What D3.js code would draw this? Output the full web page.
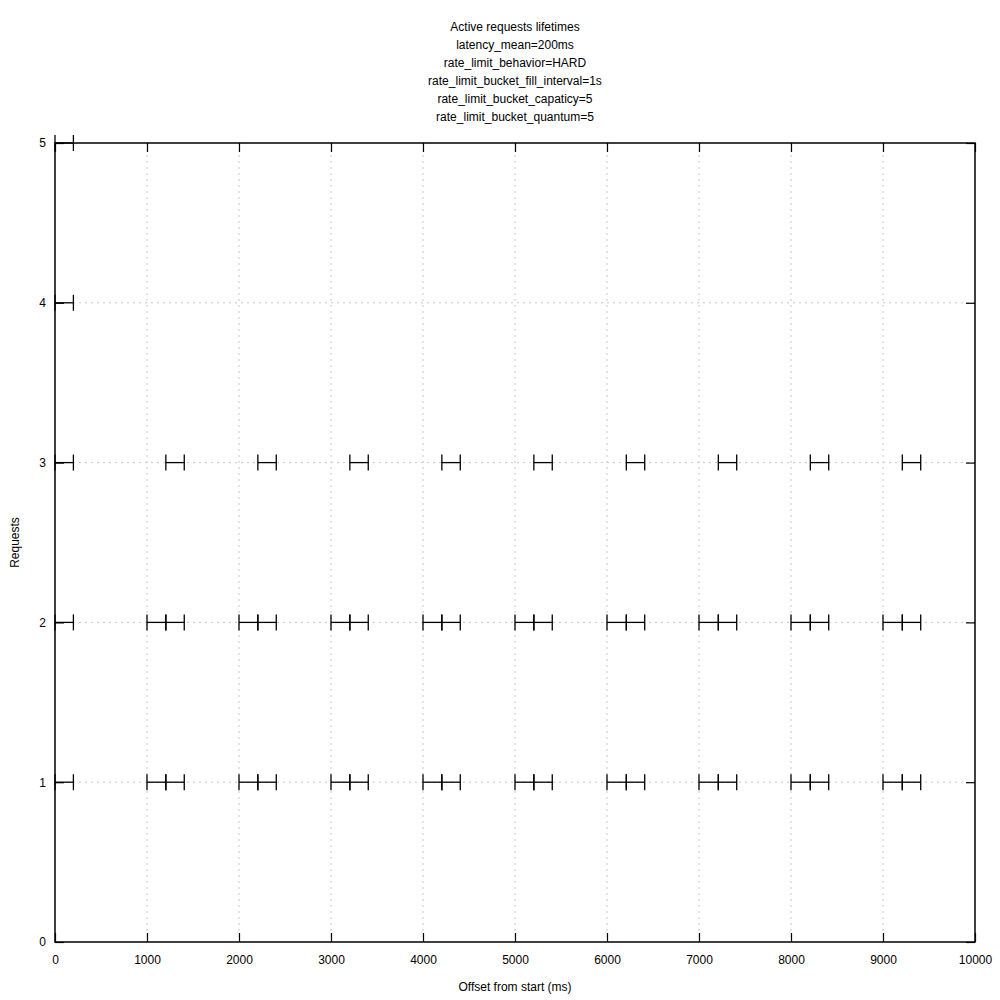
<!DOCTYPE html>
<html>
<head>
<meta charset="utf-8">
<script src="https://cdn.jsdelivr.net/npm/d3@7"></script>
<style>
  body { margin: 0; background: #fff; }
  text { font-family: "Liberation Sans", Arial, sans-serif; font-size: 12px; fill: #000; }
</style>
</head>
<body>
<svg id="chart" width="1000" height="1000"></svg>
<script>
// title lines, top to bottom
const titleLines = [
  "Active requests lifetimes",
  "latency_mean=200ms",
  "rate_limit_behavior=HARD",
  "rate_limit_bucket_fill_interval=1s",
  "rate_limit_bucket_capaticy=5",
  "rate_limit_bucket_quantum=5"
];

const xTicks = [0, 1000, 2000, 3000, 4000, 5000, 6000, 7000, 8000, 9000, 10000];
const yTicks = [0, 1, 2, 3, 4, 5];

// request lifetimes per level: [start ms, end ms]
const level1 = [[0, 200], [1000, 1205], [1205, 1405], [2000, 2205], [2205, 2405], [3000, 3205], [3205, 3405],
  [4000, 4205], [4205, 4405], [5000, 5205], [5205, 5405], [6000, 6210], [6210, 6410], [7000, 7210], [7210, 7410],
  [8000, 8210], [8210, 8410], [9000, 9210], [9210, 9410]];
const level2 = [[0, 200], [1000, 1205], [1205, 1405], [2000, 2205], [2205, 2405], [3000, 3205], [3205, 3405],
  [4000, 4205], [4205, 4405], [5000, 5205], [5205, 5405], [6000, 6210], [6210, 6410], [7000, 7210], [7210, 7410],
  [8000, 8210], [8210, 8410], [9000, 9210], [9210, 9410]];
const level3 = [[0, 200], [1205, 1405], [2205, 2405], [3205, 3405], [4205, 4405], [5205, 5405],
  [6210, 6410], [7210, 7410], [8210, 8410], [9210, 9410]];
const level4 = [[0, 200]];
const level5 = [[0, 200]];

const levels = [level1, level2, level3, level4, level5];

let data = [];
levels.forEach(function(arr, i) {
  arr.forEach(function(d) { data.push({level: i + 1, start: d[0], end: d[1]}); });
});

var margin = {top: 143, right: 25, bottom: 58, left: 55};
var width = 1000 - margin.left - margin.right;
var height = 1000 - margin.top - margin.bottom;

var x = d3.scaleLinear().domain([0, 10000]).range([0, width]);
var y = d3.scaleLinear().domain([0, 5]).range([height, 0]);

let svg = d3.select("#chart");

// title
svg.append("g")
  .selectAll("text")
  .data(titleLines)
  .enter().append("text")
  .attr("x", margin.left + width / 2)
  .attr("y", function(d, i) { return 31 + i * 18; })
  .attr("text-anchor", "middle")
  .text(function(d) { return d; });

let g = svg.append("g")
  .attr("transform", "translate(" + margin.left + "," + margin.top + ")");

// grid
g.selectAll(".vgrid")
  .data(xTicks.slice(1, -1))
  .enter().append("line")
  .attr("x1", function(d) { return x(d); })
  .attr("x2", function(d) { return x(d); })
  .attr("y1", 0)
  .attr("y2", height)
  .attr("stroke", "#c8c8c8")
  .attr("stroke-width", 1)
  .attr("stroke-dasharray", "2,4");

g.selectAll(".hgrid")
  .data(yTicks.slice(1, -1))
  .enter().append("line")
  .attr("x1", 0)
  .attr("x2", width)
  .attr("y1", function(d) { return y(d); })
  .attr("y2", function(d) { return y(d); })
  .attr("stroke", "#c8c8c8")
  .attr("stroke-width", 1)
  .attr("stroke-dasharray", "2,4");

// axes, ticks pointing inwards on all sides
function styleAxis(sel) {
  sel.select(".domain").remove();
  sel.selectAll(".tick line").attr("stroke", "#000").attr("stroke-width", 1.2);
  sel.selectAll("text").style("font-family", "'Liberation Sans', Arial, sans-serif").style("font-size", "12px");
}

g.append("g")
  .attr("transform", "translate(0," + height + ")")
  .call(d3.axisBottom(x).tickValues(xTicks).tickSize(-9).tickPadding(13).tickFormat(d3.format("d")))
  .call(styleAxis);

g.append("g")
  .call(d3.axisTop(x).tickValues(xTicks).tickSize(-9).tickFormat(""))
  .call(styleAxis);

g.append("g")
  .call(d3.axisLeft(y).tickValues(yTicks).tickSize(-9).tickPadding(9).tickFormat(d3.format("d")))
  .call(styleAxis);

g.append("g")
  .attr("transform", "translate(" + width + ",0)")
  .call(d3.axisRight(y).tickValues(yTicks).tickSize(-9).tickFormat(""))
  .call(styleAxis);

// border
g.append("rect")
  .attr("x", 0)
  .attr("y", 0)
  .attr("width", width)
  .attr("height", height)
  .attr("fill", "none")
  .attr("stroke", "#000")
  .attr("stroke-width", 1.5);

// interval bars
var cap = 8;
let bars = g.selectAll(".interval")
  .data(data)
  .enter().append("g")
  .attr("class", "interval")
  .attr("stroke", "#000")
  .attr("stroke-width", 1.3);

bars.append("line")
  .attr("x1", function(d) { return x(d.start); })
  .attr("x2", function(d) { return x(d.end); })
  .attr("y1", function(d) { return y(d.level); })
  .attr("y2", function(d) { return y(d.level); });

bars.append("line")
  .attr("x1", function(d) { return x(d.start); })
  .attr("x2", function(d) { return x(d.start); })
  .attr("y1", function(d) { return y(d.level) - cap; })
  .attr("y2", function(d) { return y(d.level) + cap; });

bars.append("line")
  .attr("x1", function(d) { return x(d.end); })
  .attr("x2", function(d) { return x(d.end); })
  .attr("y1", function(d) { return y(d.level) - cap; })
  .attr("y2", function(d) { return y(d.level) + cap; });

// axis titles
svg.append("text")
  .attr("x", margin.left + width / 2)
  .attr("y", 991)
  .attr("text-anchor", "middle")
  .text("Offset from start (ms)");

svg.append("text")
  .attr("transform", "translate(19," + (margin.top + height / 2) + ") rotate(-90)")
  .attr("text-anchor", "middle")
  .text("Requests");
</script>
</body>
</html>
